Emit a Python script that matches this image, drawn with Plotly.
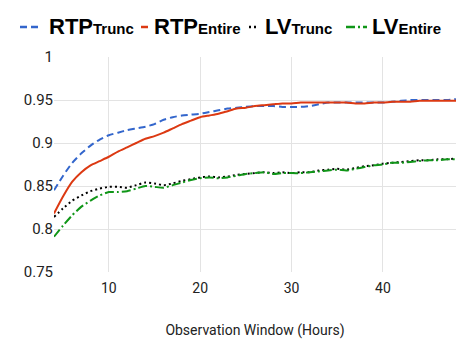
import plotly.graph_objects as go

hours = list(range(4, 49))

rtp_trunc = [0.845, 0.862, 0.877, 0.888, 0.897, 0.904, 0.909, 0.912, 0.915, 0.917,
             0.919, 0.922, 0.927, 0.930, 0.932, 0.933, 0.934, 0.936, 0.938, 0.940,
             0.941, 0.942, 0.943, 0.943, 0.943, 0.942, 0.942, 0.942, 0.943, 0.945,
             0.947, 0.947, 0.947, 0.947, 0.947, 0.947, 0.947, 0.948, 0.949, 0.950,
             0.950, 0.950, 0.950, 0.950, 0.951]

rtp_entire = [0.818, 0.838, 0.855, 0.866, 0.874, 0.879, 0.884, 0.890, 0.895, 0.900,
              0.905, 0.908, 0.912, 0.917, 0.922, 0.926, 0.930, 0.932, 0.934, 0.937,
              0.940, 0.941, 0.943, 0.944, 0.945, 0.946, 0.946, 0.947, 0.947, 0.947,
              0.947, 0.947, 0.947, 0.946, 0.946, 0.947, 0.947, 0.948, 0.948, 0.948,
              0.949, 0.949, 0.949, 0.949, 0.949]

lv_trunc = [0.814, 0.824, 0.833, 0.839, 0.844, 0.847, 0.849, 0.849, 0.848, 0.851,
            0.854, 0.853, 0.851, 0.853, 0.856, 0.858, 0.860, 0.861, 0.860, 0.861,
            0.863, 0.864, 0.865, 0.866, 0.865, 0.866, 0.865, 0.866, 0.866, 0.868,
            0.869, 0.870, 0.869, 0.871, 0.873, 0.874, 0.876, 0.877, 0.878, 0.879,
            0.880, 0.880, 0.881, 0.881, 0.882]

lv_entire = [0.791, 0.804, 0.816, 0.826, 0.833, 0.839, 0.843, 0.843, 0.844, 0.847,
             0.850, 0.849, 0.848, 0.851, 0.854, 0.857, 0.859, 0.860, 0.859, 0.860,
             0.862, 0.864, 0.865, 0.866, 0.864, 0.865, 0.865, 0.865, 0.866, 0.867,
             0.868, 0.869, 0.868, 0.870, 0.872, 0.874, 0.875, 0.877, 0.877, 0.878,
             0.879, 0.880, 0.880, 0.881, 0.881]

series_names = ["RTP", "RTP", "LV", "LV"]
series_subs = ["Trunc", "Entire", "Trunc", "Entire"]
series_colors = ["#3366cc", "#dc3912", "#000000", "#109618"]
series_dash = ["7px,4px", "solid", "2px,3px", "9px,3px,2px,3px"]
series_values = [rtp_trunc, rtp_entire, lv_trunc, lv_entire]

x_ticks = [10, 20, 30, 40]
y_ticks = [0.75, 0.8, 0.85, 0.9, 0.95, 1]
y_ticklabels = ["0.75", "0.8", "0.85", "0.9", "0.95", "1"]

# the page body adds an 8px margin; work in screen pixels and shift
OFF = 8
W, H = 474, 355
PLOT_L, PLOT_R, PLOT_T, PLOT_B = 54, 456, 57, 272   # screen pixels
ML = PLOT_L - OFF
MT = PLOT_T - OFF
MR = W - (PLOT_R - OFF)
MB = H - (PLOT_B - OFF)
PW, PH = PLOT_R - PLOT_L, PLOT_B - PLOT_T

fig = go.Figure()
for name, sub, col, dash, vals in zip(series_names, series_subs, series_colors, series_dash, series_values):
    fig.add_trace(go.Scatter(
        x=hours, y=vals, mode="lines", name=name + sub,
        line=dict(color=col, width=2, dash=dash, shape="spline", smoothing=0.6),
        showlegend=False, hoverinfo="skip"))

# custom legend (text + short symbol lines), in screen pixel positions
legend_text_x = [47, 152, 263, 370]
legend_sym = [(20, 41), (141, 148), (249, 258), (346, 367)]
legend_y_px = 26
def px2x(p):
    return (p - PLOT_L) / PW
def py2y(p):
    return (PLOT_B - p) / PH

annotations = []
shapes = []
for i in range(4):
    annotations.append(dict(
        x=px2x(legend_text_x[i]), y=py2y(legend_y_px), xref="paper", yref="paper",
        xanchor="left", yanchor="middle", showarrow=False,
        text="<b>" + series_names[i] + "<span style='font-size:15px'>" + series_subs[i] + "</span></b>",
        font=dict(family="Liberation Sans, Arial", size=22, color="#000000")))
    s0, s1 = legend_sym[i]
    shapes.append(dict(
        type="line", xref="paper", yref="paper",
        x0=px2x(s0), x1=px2x(s1), y0=py2y(legend_y_px + 1), y1=py2y(legend_y_px + 1),
        line=dict(color=series_colors[i], width=2.5, dash=series_dash[i])))

fig.update_layout(
    width=W, height=H,
    margin=dict(l=ML, r=MR, t=MT, b=MB, autoexpand=False),
    paper_bgcolor="white", plot_bgcolor="white",
    font=dict(family="Roboto", size=14, color="#222222"),
    annotations=annotations, shapes=shapes,
    xaxis=dict(range=[4, 48], tickvals=x_ticks, showgrid=True, gridcolor="#e3e3e3",
               gridwidth=1, zeroline=False, showline=False, ticks="",
               ticklabelstandoff=6,
               tickfont=dict(size=14, color="#222222"),
               title=dict(text="Observation Window (Hours)", font=dict(size=14, color="#222222"), standoff=30)),
    yaxis=dict(range=[0.75, 1], tickvals=y_ticks, ticktext=y_ticklabels, showgrid=True,
               gridcolor="#e3e3e3", gridwidth=1, zeroline=False, showline=False, ticks="",
               tickfont=dict(size=15, color="#222222")),
)

fig.write_html("out.html")
